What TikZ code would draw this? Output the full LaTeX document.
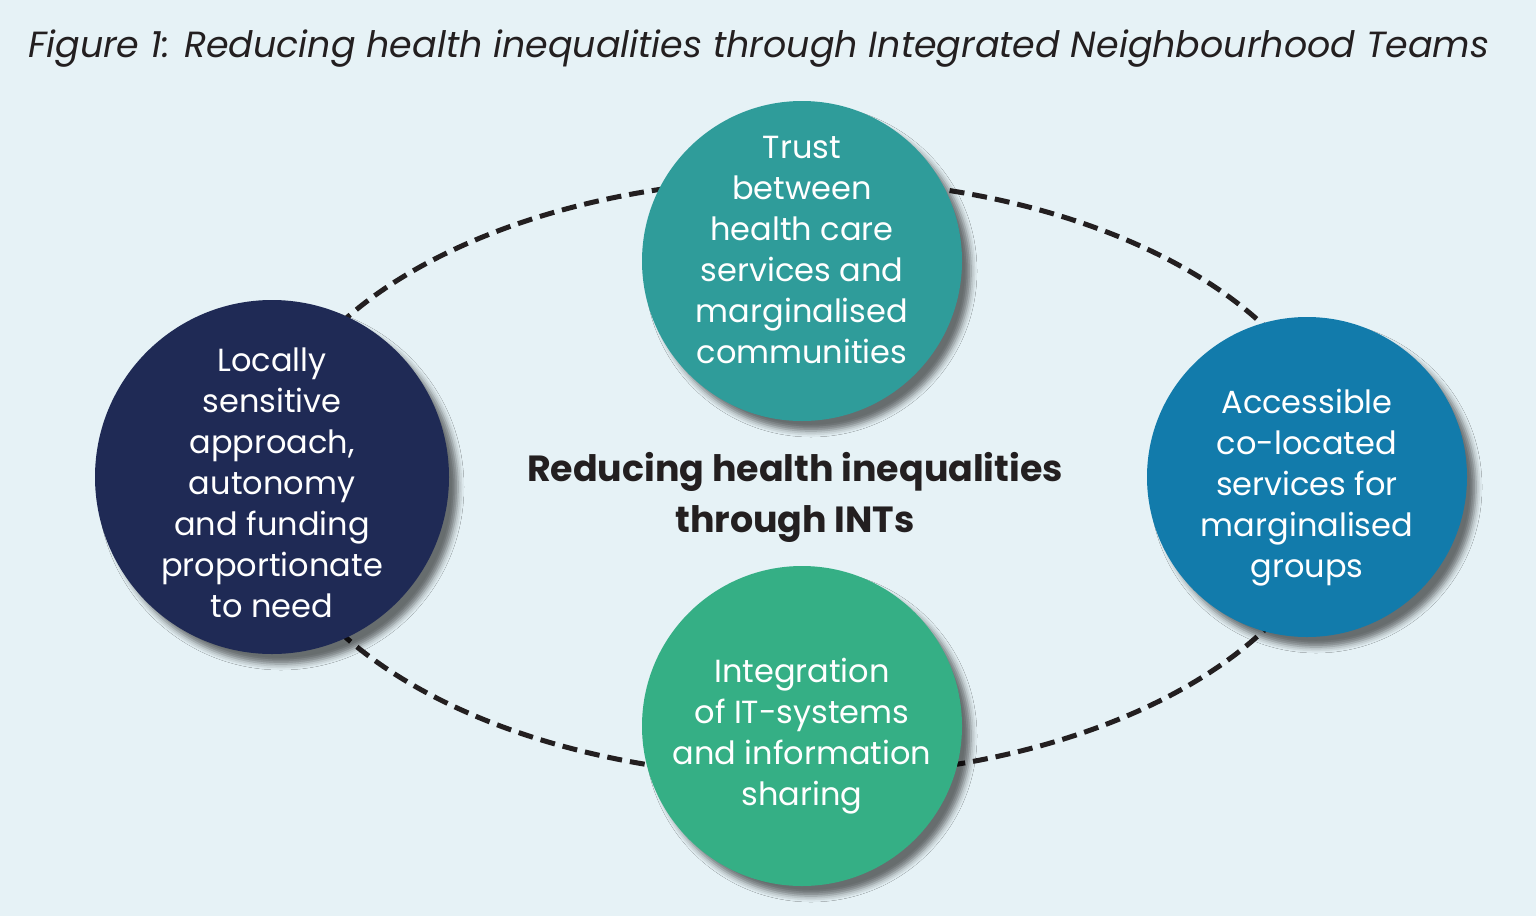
\documentclass[tikz,border=0pt]{standalone}
\usepackage{fontspec}
\setmainfont{Poppins}
\usetikzlibrary{shadows.blur}
\definecolor{bgblue}{HTML}{E6F2F6}
\definecolor{teal}{HTML}{2F9C9A}
\definecolor{navy}{HTML}{1F2A55}
\definecolor{ocean}{HTML}{127BAB}
\definecolor{jade}{HTML}{35AF85}
\definecolor{ink}{HTML}{231F20}
\tikzset{tight/.style={inner sep=0pt},
  bubble/.style={circle, minimum size=320pt,
    blur shadow={shadow xshift=9pt, shadow yshift=-10pt, shadow blur radius=6pt,
      shadow opacity=55}},
  bubbletext/.style={text=white, align=center, font=\fontsize{32}{41}\selectfont},
  ring/.style={ink, line width=5pt, dash pattern=on 15pt off 8pt}}

\begin{document}
\begin{tikzpicture}[x=1pt, y=-1pt, style=tight]
          \fill[bgblue] (0,0) rectangle (1536,916);
          \useasboundingbox (0,0) rectangle (1536,916);
          \node at (28, 57) [anchor=base west, text=ink,
          font=\itshape\fontsize{36.4}{40}\selectfont] (title)
          {Figure 1: Reducing health inequalities through Integrated Neighbourhood Teams};
          
          % dashed ring behind the circles
          \draw[ring] (801, 478) ellipse [x radius=538, y radius=299];
          
          \node at (802, 261) [bubble, fill=teal] (trust) {};
          \node at (272, 477) [bubble, fill=navy, minimum size=354pt] (local) {};
          \node at (1307, 477) [bubble, fill=ocean] (access) {};
          \node at (802, 726) [bubble, fill=jade] (integ) {};
          
          \node at ([yshift=11pt]trust.center) [bubbletext] (trusttext)
          {Trust\\between\\health care\\services and\\marginalised\\communities};
          \node at ([yshift=-6pt]local.center) [bubbletext] (localtext)
          {Locally\\sensitive\\approach,\\autonomy\\and funding\\proportionate\\to need};
          \node at ([yshift=-11pt]access.center) [bubbletext] (accesstext)
          {Accessible\\co-located\\services for\\marginalised\\groups};
          \node at ([yshift=-10pt]integ.center) [bubbletext] (integtext)
          {Integration\\of IT-systems\\and information\\sharing};
          
          \node at (795, 497) [align=center, text=ink,
          font=\bfseries\fontsize{36.4}{51}\selectfont] (centre)
          {Reducing health inequalities\\through INTs};
        \end{tikzpicture}
\end{document}
